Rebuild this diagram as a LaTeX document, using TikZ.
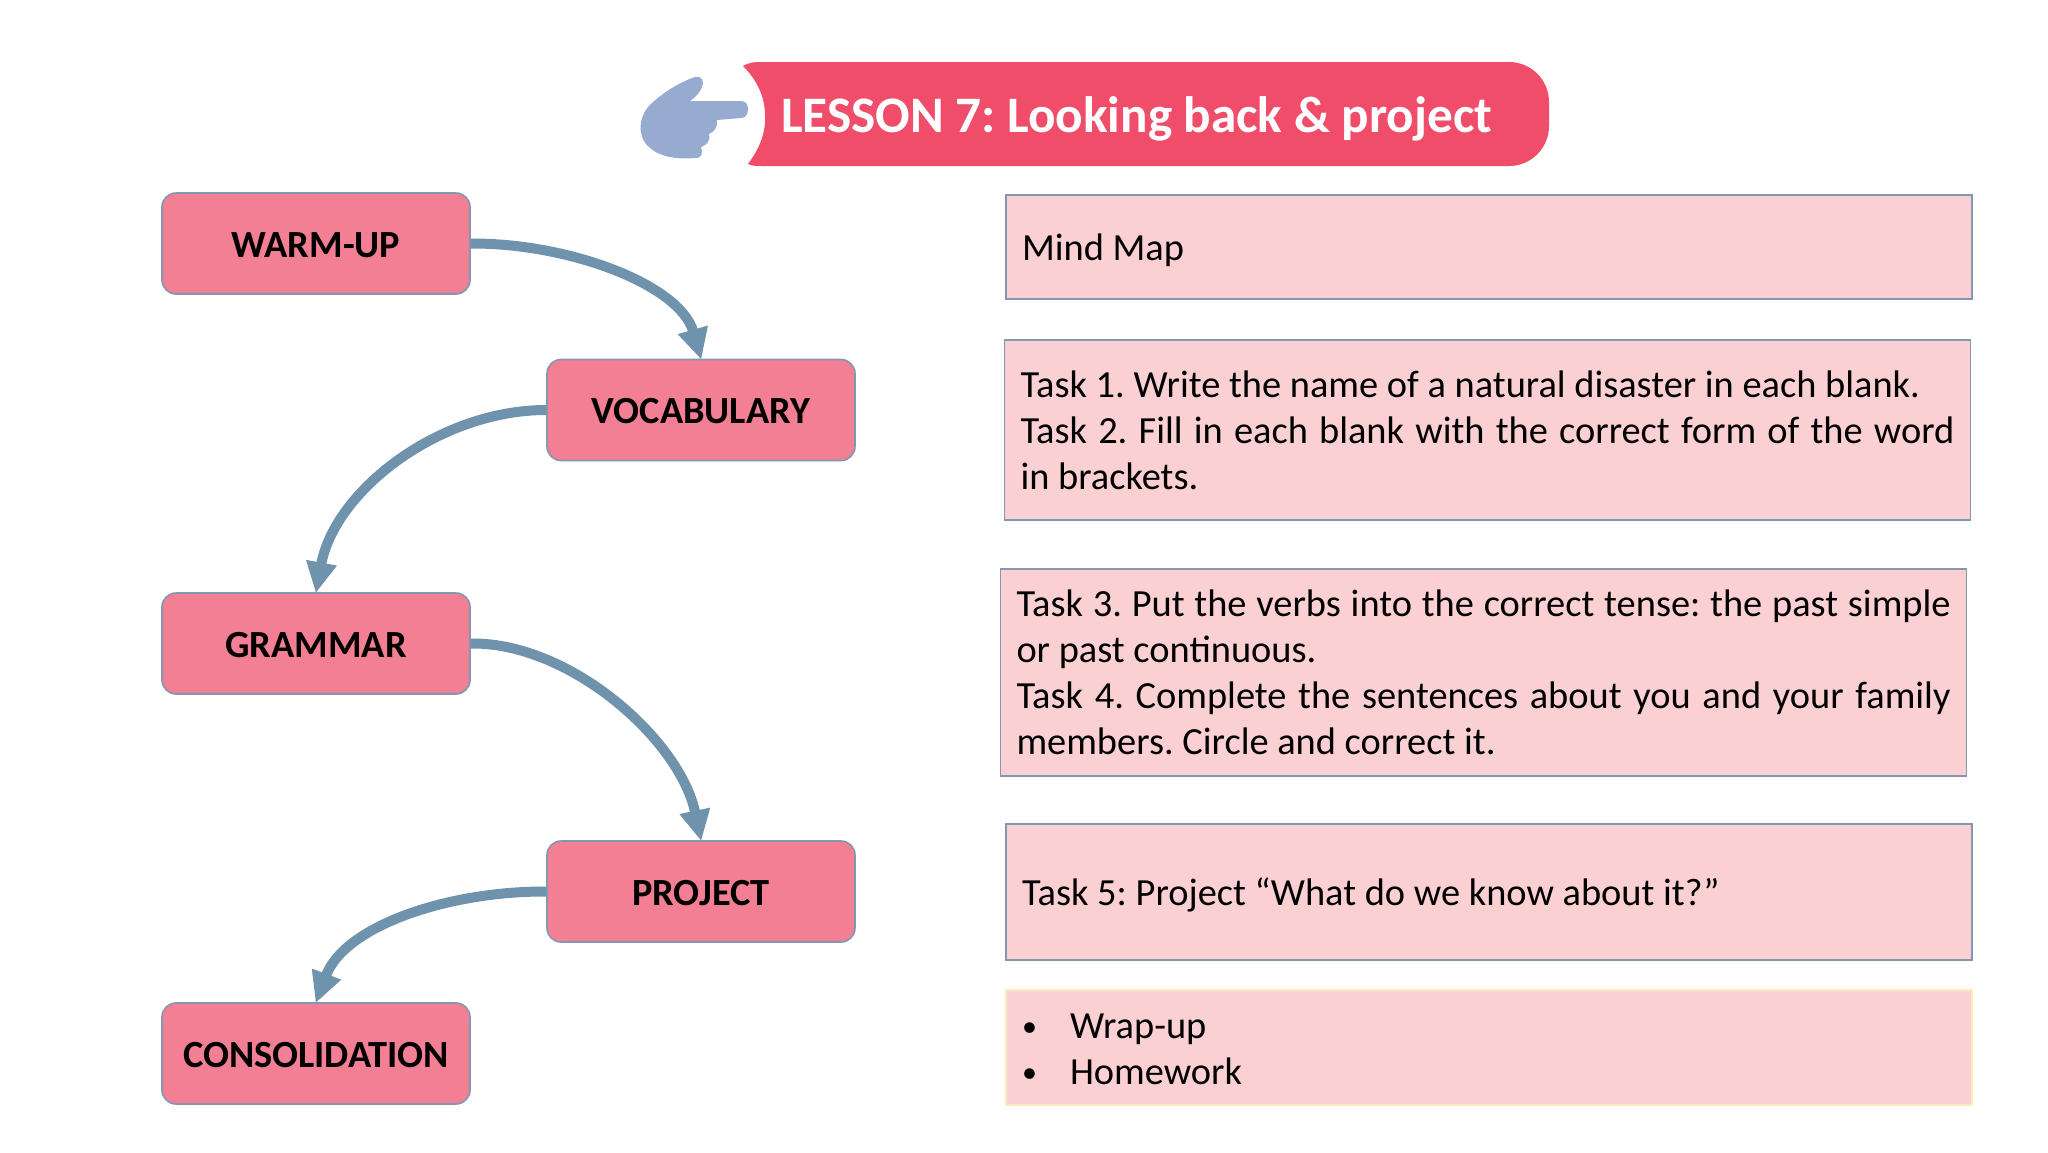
\documentclass[tikz,border=0pt]{standalone}
\usepackage{fontspec}
\setmainfont{Carlito}
\usetikzlibrary{arrows.meta,positioning}
\definecolor{stepfill}{HTML}{F37F95}
\definecolor{edgeblue}{HTML}{6F93AD}
\definecolor{boxfill}{HTML}{FBD0D2}
\definecolor{boxline}{HTML}{8496B0}
\definecolor{wrapline}{HTML}{FDEBC0}
\definecolor{titlefill}{HTML}{EF4D6A}
\definecolor{handfill}{HTML}{97ABD0}
\newcommand\nudge[2]{\raisebox{-#1pt}[\height][\depth]{#2}}
\tikzset{
 x=1pt,y=-1pt,
 stepbox/.style={draw=boxline,line width=1.6pt,fill=stepfill,rounded corners=14pt,minimum width=308pt,minimum height=101pt,inner sep=0pt,font=\fontsize{38.4}{44}\selectfont\bfseries,text=black},
 taskbox/.style={draw=boxline,line width=1.6pt,fill=boxfill,minimum width=966pt,inner sep=0pt,align=justify,text width=934pt,font=\fontsize{38.4}{46}\selectfont\frenchspacing,text=black},
 flow/.style={draw=edgeblue,line width=10pt,-{Triangle[length=31pt,width=29pt,fill=edgeblue]},shorten >=-1pt},
}
\begin{document}
\begin{tikzpicture}
\useasboundingbox (0,0) rectangle (2048,1152);
\fill[white] (0,0) rectangle (2048,1152);
% hand
\fill[handfill] (748,109) .. controls (748,114) and (746,118) .. (741,118)
 -- (717,120) .. controls (718,127) and (714,132) .. (709,134)
 .. controls (711,140) and (707,145) .. (701,147)
 .. controls (703,154) and (702,158) .. (695,158)
 .. controls (672,160) and (655,155) .. (646,144)
 .. controls (638,134) and (639,118) .. (648,107)
 .. controls (660,94) and (680,82) .. (695,77)
 .. controls (701,75) and (705,81) .. (702,87)
 .. controls (700,92) and (696,97) .. (690,101)
 -- (741,101) .. controls (746,101) and (748,105) .. (748,109) -- cycle;
% title banner
\fill[titlefill] (743,66) .. controls (750,62) and (755,62) .. (762,62)
 -- (1509,62) arc[start angle=-90,end angle=0,radius=40] -- (1549,126)
 arc[start angle=0,end angle=90,radius=40] -- (765,166)
 .. controls (757,166) and (752,166) .. (748,164)
 .. controls (760,148) and (766,132) .. (765,115)
 .. controls (765,97) and (757,80) .. (743,66) -- cycle;
\node[anchor=west,inner sep=0pt,text=white,font=\fontsize{51.2}{56}\selectfont\bfseries\frenchspacing] (title) at (781,118.5) {LESSON 7: Looking back \& project};
% steps
\node[stepbox] (warm) at (316,243.5) {\nudge{1.5}{WARM-UP}};
\node[stepbox] (vocab) at (701,410) {\nudge{1.5}{VOCABULARY}};
\node[stepbox] (gram) at (316,643.5) {\nudge{1.5}{GRAMMAR}};
\node[stepbox] (proj) at (701,891.5) {\nudge{1.5}{PROJECT}};
\node[stepbox] (cons) at (316,1053.5) {\nudge{1.5}{CONSOLIDATION}};
% connectors
\draw[flow] (warm.east) .. controls (570,243) and (680,285) .. (vocab.north);
\draw[flow] (vocab.west) .. controls (440,410) and (335,490) .. (gram.north);
\draw[flow] (gram.east) .. controls (570,642) and (680,740) .. (proj.north);
\draw[flow] (proj.west) .. controls (450,891) and (345,925) .. (cons.north);
% tasks
\node[taskbox,minimum height=104pt] (mind) at (1489,247) {\nudge{3.5}{Mind Map}};
\node[taskbox,minimum height=180pt] (t12) at (1487.5,430) {Task 1. Write the name of a natural disaster in each blank.\\
Task 2. Fill in each blank with the correct form of the word\linebreak in brackets.};
\node[taskbox,minimum height=207pt] (t34) at (1483.5,672.5) {Task 3. Put the verbs into the correct tense: the past simple\linebreak or past continuous.\\
Task 4. Complete the sentences about you and your family\linebreak members. Circle and correct it.};
\node[taskbox,minimum height=136pt] (t5) at (1489,892) {\nudge{3}{Task 5: Project “What do we know about it?”}};
\node[taskbox,draw=wrapline,minimum height=115pt] (wrap) at (1489,1047.5) {\makebox[48pt][l]{\fontsize{30}{46}\selectfont •}\nudge{1.5}{Wrap-up}\\\makebox[48pt][l]{\fontsize{30}{46}\selectfont •}\nudge{1.5}{Homework}};
\end{tikzpicture}
\end{document}
